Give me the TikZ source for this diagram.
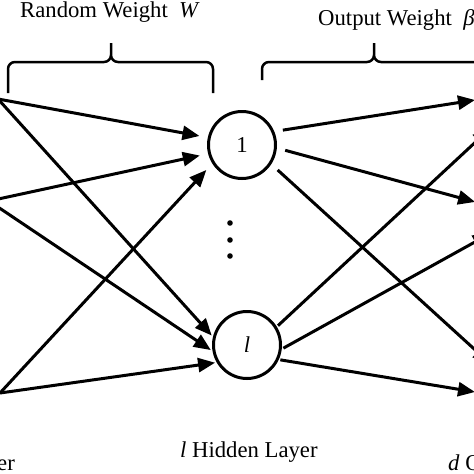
\documentclass[tikz,border=0pt]{standalone}
\usepackage{fontspec}
\setmainfont{Liberation Serif}
\usetikzlibrary{arrows.meta}

\begin{document}
\begin{tikzpicture}[x=1pt,y=-1pt,
  txt/.style={inner sep=0pt, font=\fontsize{22.7}{27}\selectfont},
  unit/.style={circle, draw, line width=3pt, minimum size=67pt, inner sep=0pt, txt},
  wire/.style={line width=3pt, -{Triangle[length=17pt,width=14pt]}},
  brace/.style={line width=2.5pt, rounded corners=7pt}]
  \useasboundingbox (0,0) rectangle (474,474);
  \clip (0,0) rectangle (474,474);

  % input layer (beyond the left edge)
  \node[unit] (in1) at (-37,99) {};
  \node[unit] (in2) at (-46,201) {};
  \node[unit] (in3) at (-35,393) {};
  % hidden layer
  \node[unit, outer sep=10pt] (h1) at (242,145) {1};
  \node[unit, outer sep=3pt] (hl) at (247,345) {\textit{l}};
  \foreach \y in {223,240,256} \fill (230,\y) circle (2.8pt);
  % output layer (beyond the right edge)
  \node[unit] (out1) at (510,100) {};
  \node[unit] (out2) at (510,205) {};
  \node[unit] (out3) at (510,392) {};

  \draw[wire] (in1.east) -- (h1.168);
  \draw[wire] (in1.east) -- (hl.165);
  \draw[wire] (in2.east) -- (h1.194);
  \draw[wire] (in2.east) -- (hl.188);
  \draw[wire] (in3.east) -- (h1.215);
  \draw[wire] (in3.east) -- (hl.209);

  \draw[wire] (h1.20) -- (out1.west);
  \draw[wire] (h1.-7) -- (out2.175);
  \draw[wire] (h1.-35) -- (out3.125);
  \draw[wire] (hl.32) -- (out1.235);
  \draw[wire] (hl.-5) -- (out2.235);
  \draw[wire] (hl.-24) -- (out3.west);

  % braces
  \draw[brace] (8,93) |- (111,62) -- (111,43) (111,43) |- (213,62) -- (213,93);
  \draw[brace] (262,80) |- (374,62) -- (374,43) (374,43) |- (490,62) -- (490,80);

  \node[txt, anchor=base] (rw) at (110,17) {Random Weight \ \textit{W}};
  \node[txt, anchor=base west] (ow) at (318,25) {Output Weight \ \textit{β}};
  \node[txt, anchor=base west] (hid) at (180,457) {\textit{l} Hidden Layer};
  \node[txt, anchor=base east] (inp) at (15,470) {\textit{n} Input Layer};
  \node[txt, anchor=base west] (outp) at (448,470) {\textit{d} Output Layer};
\end{tikzpicture}
\end{document}
